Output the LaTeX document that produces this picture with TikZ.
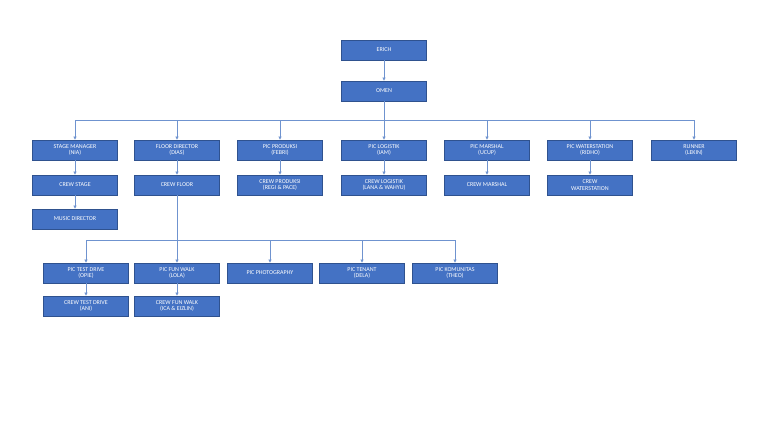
\documentclass[tikz,border=0pt]{standalone}
\usepackage{fontspec}
\setmainfont{Carlito}
\usetikzlibrary{arrows.meta}
\definecolor{bfill}{HTML}{4472C4}
\definecolor{bdraw}{HTML}{2F528F}
\definecolor{lnk}{HTML}{6F93CF}
\begin{document}
\begin{tikzpicture}[x=1pt,y=-1pt,
  box/.style={draw=bdraw,line width=0.8pt,fill=bfill,minimum width=85pt,minimum height=20pt,inner sep=0pt,text=white,font=\fontsize{6}{6.5}\selectfont,align=center},
  ln/.style={draw=lnk,line width=0.7pt},
  ar/.style={ln,-{Triangle[length=3pt,width=3pt]}}]
\fill[white] (0,0) rectangle (768,433);
\node[box] (erich) at (384,50) {ERICH};
\node[box] (omen) at (384,91) {OMEN};
\node[box] (sm) at (75,150) {STAGE MANAGER\\(NIA)};
\node[box] (fd) at (177,150) {FLOOR DIRECTOR\\(DIAS)};
\node[box] (pp) at (280,150) {PIC PRODUKSI\\(FEBRI)};
\node[box] (pl) at (384,150) {PIC LOGISTIK\\(IAM)};
\node[box] (pm) at (487,150) {PIC MARSHAL\\(UCUP)};
\node[box] (pw) at (590,150) {PIC WATERSTATION\\(RIDHO)};
\node[box] (rn) at (694,150) {RUNNER\\(LEKIN)};
\node[box] (cs) at (75,185) {CREW STAGE};
\node[box] (cf) at (177,185) {CREW FLOOR};
\node[box] (cp) at (280,185) {CREW PRODUKSI\\(REGI \& PACE)};
\node[box] (cl) at (384,185) {CREW LOGISTIK\\(LANA \& WAHYU)};
\node[box] (cm) at (487,185) {CREW MARSHAL};
\node[box] (cw) at (590,185) {CREW\\WATERSTATION};
\node[box] (md) at (75,219) {MUSIC DIRECTOR};
\node[box] (td) at (86,273) {PIC TEST DRIVE\\(OPIE)};
\node[box] (fw) at (177,273) {PIC FUN WALK\\(LOLA)};
\node[box] (ph) at (270,273) {PIC PHOTOGRAPHY};
\node[box] (tn) at (362,273) {PIC TENANT\\(DELA)};
\node[box] (km) at (455,273) {PIC KOMUNITAS\\(THEO)};
\node[box] (ctd) at (86,306) {CREW TEST DRIVE\\(ANI)};
\node[box] (cfw) at (177,306) {CREW FUN WALK\\(ICA \&  EIZLIN)};
\coordinate (b1) at (384,120);
\coordinate (b2) at (177,240);
\draw[ar] (erich) -- (omen);
\draw[ln] (omen) -- (b1);
\foreach \n in {sm,fd,pp,pl,pm,pw,rn}{\draw[ar] (b1) -| (\n.north);}
\foreach \a/\b in {sm/cs,fd/cf,pp/cp,pl/cl,pm/cm,pw/cw,cs/md,td/ctd,fw/cfw}{\draw[ar] (\a) -- (\b);}
\draw[ln] (cf) -- (b2);
\foreach \n in {td,fw,ph,tn,km}{\draw[ar] (b2) -| (\n.north);}
\end{tikzpicture}
\end{document}
